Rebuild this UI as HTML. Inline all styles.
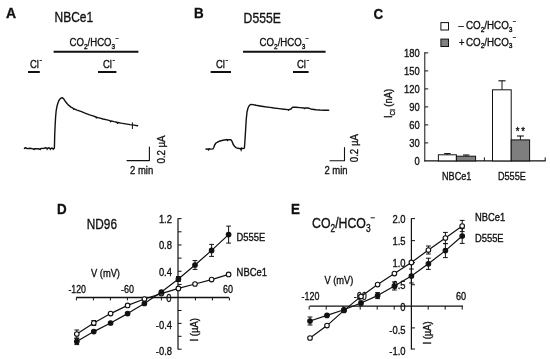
<!DOCTYPE html>
<html><head><meta charset="utf-8"><title>Figure</title>
<style>
html,body{margin:0;padding:0;background:#fff;}
svg{display:block;}
text{font-family:"Liberation Sans",Arial,Helvetica,sans-serif;fill:#111;stroke:#111;stroke-width:0.35px;}
</style></head>
<body>
<svg width="550" height="359" viewBox="0 0 550 359">
<rect x="0" y="0" width="550" height="359" fill="#fff"/>
<text transform="translate(6.00,18.40) scale(0.9200,1)" font-size="15.2" font-weight="bold">A</text>
<text transform="translate(194.00,18.20) scale(0.8800,1)" font-size="15.2" font-weight="bold">B</text>
<text transform="translate(373.60,18.60) scale(0.8800,1)" font-size="15.2" font-weight="bold">C</text>
<text transform="translate(57.00,214.10) scale(0.8800,1)" font-size="15.2" font-weight="bold">D</text>
<text transform="translate(291.00,214.10) scale(0.8800,1)" font-size="15.2" font-weight="bold">E</text>
<text transform="translate(54.50,22.10) scale(0.7850,1)" font-size="15.3">NBCe1</text>
<text transform="translate(69.60,46.00) scale(0.8337,1)" font-size="11.5"><tspan dy="0.00" font-size="11.50">CO</tspan><tspan dy="2.53" font-size="7.82">2</tspan><tspan dy="-2.53" font-size="11.50">/HCO</tspan><tspan dy="2.53" font-size="7.82">3</tspan><tspan dy="-7.71" font-size="7.04">−</tspan></text>
<line x1="53.60" y1="51.80" x2="138.40" y2="51.80" stroke="#111" stroke-width="2"/>
<text transform="translate(30.00,68.40) scale(0.8200,1)" font-size="11.5">Cl</text>
<text transform="translate(39.60,63.00) scale(0.8200,1)" font-size="9.775">-</text>
<line x1="28.00" y1="72.00" x2="39.80" y2="72.00" stroke="#111" stroke-width="2"/>
<text transform="translate(103.00,68.40) scale(0.8200,1)" font-size="11.5">Cl</text>
<text transform="translate(112.60,63.00) scale(0.8200,1)" font-size="9.775">-</text>
<line x1="98.00" y1="72.00" x2="116.40" y2="72.00" stroke="#111" stroke-width="2"/>
<polyline points="24.4,148.4 25.5,147.6 27.0,148.6 30.0,148.3 33.0,148.9 34.0,149.4 35.0,148.6 38.0,148.8 40.0,149.3 41.0,148.5 44.0,148.2 46.0,147.8 47.0,148.6 49.0,147.7 50.0,148.9 52.0,148.0 53.4,148.9 54.4,148.2 54.7,135.2 55.1,126.0 55.6,117.0 56.2,110.5 57.0,106.3 57.9,103.0 58.9,100.5 60.3,98.6 62.0,97.6 63.5,98.6 65.2,101.2 67.0,103.5 68.8,105.4 71.0,107.1 73.3,108.4 73.8,109.3 74.3,108.9 77.0,110.1 81.5,111.7 85.0,113.1 89.6,114.8 93.0,115.9 96.0,117.0 96.4,117.9 96.9,117.3 100.0,118.2 103.0,119.0 107.0,119.9 110.0,120.6 110.6,121.8 111.2,120.9 114.0,121.6 117.0,122.2 117.4,123.3 117.9,122.5 121.0,123.1 124.0,123.6 127.0,124.1 130.0,124.6 134.0,125.1 137.6,125.7" fill="none" stroke="#111" stroke-width="1.4" stroke-linejoin="round" stroke-linecap="round"/>
<line x1="132.40" y1="122.40" x2="132.40" y2="129.00" stroke="#111" stroke-width="1"/>
<line x1="34.20" y1="148.30" x2="34.20" y2="150.20" stroke="#111" stroke-width="0.9"/>
<line x1="40.30" y1="148.30" x2="40.30" y2="150.20" stroke="#111" stroke-width="0.9"/>
<line x1="47.20" y1="148.30" x2="47.20" y2="150.20" stroke="#111" stroke-width="0.9"/>
<line x1="50.60" y1="148.30" x2="50.60" y2="150.20" stroke="#111" stroke-width="0.9"/>
<line x1="53.20" y1="148.30" x2="53.20" y2="150.20" stroke="#111" stroke-width="0.9"/>
<line x1="241.20" y1="147.20" x2="241.20" y2="151.40" stroke="#111" stroke-width="0.9"/>
<line x1="208.60" y1="148.60" x2="208.60" y2="150.60" stroke="#111" stroke-width="0.9"/>
<polyline points="127.0,160.6 149.4,160.6 149.4,147.0" fill="none" stroke="#111" stroke-width="1.1" stroke-linejoin="round" stroke-linecap="round"/>
<text transform="translate(130.00,174.40) scale(0.8256,1)" font-size="11.5">2 min</text>
<text transform="translate(164.60,163.60) rotate(-90) scale(0.8418,1)" font-size="11.5">0.2 µA</text>
<text transform="translate(243.60,22.60) scale(0.8113,1)" font-size="15.0">D555E</text>
<text transform="translate(259.60,46.00) scale(0.8371,1)" font-size="11.5"><tspan dy="0.00" font-size="11.50">CO</tspan><tspan dy="2.53" font-size="7.82">2</tspan><tspan dy="-2.53" font-size="11.50">/HCO</tspan><tspan dy="2.53" font-size="7.82">3</tspan><tspan dy="-7.71" font-size="7.04">−</tspan></text>
<line x1="243.00" y1="51.80" x2="325.60" y2="51.80" stroke="#111" stroke-width="2"/>
<text transform="translate(216.00,68.40) scale(0.8200,1)" font-size="11.5">Cl</text>
<text transform="translate(225.60,63.00) scale(0.8200,1)" font-size="9.775">-</text>
<line x1="210.60" y1="72.00" x2="231.00" y2="72.00" stroke="#111" stroke-width="2"/>
<text transform="translate(297.00,68.40) scale(0.8200,1)" font-size="11.5">Cl</text>
<text transform="translate(306.60,63.00) scale(0.8200,1)" font-size="9.775">-</text>
<line x1="293.00" y1="72.00" x2="308.60" y2="72.00" stroke="#111" stroke-width="2"/>
<polyline points="206.0,149.0 208.0,149.2 208.5,149.8 209.0,148.8 211.0,149.1 213.0,148.9 213.8,147.5 214.6,145.0 216.0,143.0 218.0,141.8 220.0,141.0 223.0,140.3 226.0,139.8 227.0,139.4 227.4,140.6 228.0,139.7 231.0,139.8 232.0,141.3 233.0,144.0 234.5,146.3 236.0,147.6 238.0,148.3 240.0,148.6 241.0,149.4 241.5,148.2 243.0,148.6 244.4,148.2 245.0,140.0 245.6,130.0 246.2,120.0 247.0,112.0 248.0,108.0 249.0,106.0 250.0,104.9 251.0,104.4 253.0,104.6 256.0,105.3 260.0,106.0 265.0,106.8 270.0,107.4 274.0,108.0 279.0,108.6 284.0,109.2 288.0,109.6 288.5,110.3 289.0,109.6 291.0,109.0 292.0,107.8 293.0,107.1 296.0,107.3 300.0,107.6 304.0,108.0 304.5,108.6 305.0,108.0 308.0,108.0 310.0,108.6 312.0,109.3 316.0,109.7 320.0,110.0 324.0,110.2 328.7,110.3" fill="none" stroke="#111" stroke-width="1.4" stroke-linejoin="round" stroke-linecap="round"/>
<polyline points="330.0,160.7 344.5,160.7 344.5,147.6" fill="none" stroke="#111" stroke-width="1.1" stroke-linejoin="round" stroke-linecap="round"/>
<text transform="translate(324.40,174.40) scale(0.8256,1)" font-size="11.5">2 min</text>
<text transform="translate(358.40,162.20) rotate(-90) scale(0.8418,1)" font-size="11.5">0.2 µA</text>
<rect x="440.90" y="22.60" width="7.60" height="7.40" fill="#fff" stroke="#111" stroke-width="1"/>
<rect x="440.90" y="39.10" width="7.60" height="7.40" fill="#808080" stroke="#111" stroke-width="1"/>
<text transform="translate(458.40,29.00) scale(0.8200,1)" font-size="11.5">–</text>
<text transform="translate(466.00,29.00) scale(0.8507,1)" font-size="11.5"><tspan dy="0.00" font-size="11.50">CO</tspan><tspan dy="2.53" font-size="7.82">2</tspan><tspan dy="-2.53" font-size="11.50">/HCO</tspan><tspan dy="2.53" font-size="7.82">3</tspan><tspan dy="-7.71" font-size="7.04">−</tspan></text>
<text transform="translate(459.00,45.50) scale(0.8200,1)" font-size="11.5">+</text>
<text transform="translate(466.00,45.50) scale(0.8507,1)" font-size="11.5"><tspan dy="0.00" font-size="11.50">CO</tspan><tspan dy="2.53" font-size="7.82">2</tspan><tspan dy="-2.53" font-size="11.50">/HCO</tspan><tspan dy="2.53" font-size="7.82">3</tspan><tspan dy="-7.71" font-size="7.04">−</tspan></text>
<line x1="424.80" y1="52.20" x2="424.80" y2="161.40" stroke="#111" stroke-width="1.0"/>
<line x1="424.30" y1="160.90" x2="545.60" y2="160.90" stroke="#111" stroke-width="1.3"/>
<text transform="translate(414.45,165.10) scale(0.8200,1)" font-size="11.5">0</text>
<line x1="424.80" y1="142.90" x2="428.20" y2="142.90" stroke="#111" stroke-width="1"/>
<text transform="translate(409.20,147.10) scale(0.8200,1)" font-size="11.5">30</text>
<line x1="424.80" y1="124.90" x2="428.20" y2="124.90" stroke="#111" stroke-width="1"/>
<text transform="translate(409.20,129.10) scale(0.8200,1)" font-size="11.5">60</text>
<line x1="424.80" y1="106.90" x2="428.20" y2="106.90" stroke="#111" stroke-width="1"/>
<text transform="translate(409.20,111.10) scale(0.8200,1)" font-size="11.5">90</text>
<line x1="424.80" y1="88.90" x2="428.20" y2="88.90" stroke="#111" stroke-width="1"/>
<text transform="translate(403.96,93.10) scale(0.8200,1)" font-size="11.5">120</text>
<line x1="424.80" y1="70.90" x2="428.20" y2="70.90" stroke="#111" stroke-width="1"/>
<text transform="translate(403.96,75.10) scale(0.8200,1)" font-size="11.5">150</text>
<line x1="424.80" y1="52.90" x2="428.20" y2="52.90" stroke="#111" stroke-width="1"/>
<text transform="translate(403.96,57.10) scale(0.8200,1)" font-size="11.5">180</text>
<line x1="484.40" y1="157.40" x2="484.40" y2="160.90" stroke="#111" stroke-width="1"/>
<line x1="545.20" y1="157.40" x2="545.20" y2="160.90" stroke="#111" stroke-width="1"/>
<line x1="447.40" y1="153.60" x2="447.40" y2="154.80" stroke="#111" stroke-width="1"/>
<line x1="444.15" y1="153.60" x2="450.65" y2="153.60" stroke="#111" stroke-width="1.1"/>
<rect x="438.40" y="154.80" width="18.00" height="6.10" fill="#fff" stroke="#111" stroke-width="1"/>
<line x1="466.20" y1="155.00" x2="466.20" y2="156.20" stroke="#111" stroke-width="1"/>
<line x1="462.95" y1="155.00" x2="469.45" y2="155.00" stroke="#111" stroke-width="1.1"/>
<rect x="456.40" y="156.20" width="19.20" height="4.70" fill="#808080" stroke="#111" stroke-width="1"/>
<line x1="502.00" y1="80.80" x2="502.00" y2="89.80" stroke="#111" stroke-width="1"/>
<line x1="498.40" y1="80.80" x2="505.60" y2="80.80" stroke="#111" stroke-width="1.1"/>
<rect x="492.50" y="89.80" width="18.70" height="71.10" fill="#fff" stroke="#111" stroke-width="1"/>
<line x1="520.40" y1="136.00" x2="520.40" y2="139.90" stroke="#111" stroke-width="1"/>
<line x1="517.00" y1="136.00" x2="523.80" y2="136.00" stroke="#111" stroke-width="1.1"/>
<rect x="511.20" y="139.90" width="18.40" height="21.00" fill="#7e7e7e" stroke="#111" stroke-width="1"/>
<text transform="translate(515.70,135.40) scale(0.8222,1)" font-size="11.5">*</text>
<text transform="translate(521.30,135.40) scale(0.8222,1)" font-size="11.5">*</text>
<text transform="translate(442.00,179.80) scale(0.7935,1)" font-size="11.5">NBCe1</text>
<text transform="translate(498.00,180.00) scale(0.7909,1)" font-size="11.5">D555E</text>
<text transform="translate(392.3,118) rotate(-90) scale(0.82,1)" font-size="11.5">I<tspan dy="2.6" font-size="7.8">Cl</tspan><tspan dy="-2.6"> (nA)</tspan></text>
<text transform="translate(86.80,228.60) scale(0.7875,1)" font-size="15.0">ND96</text>
<line x1="76.20" y1="297.40" x2="229.00" y2="297.40" stroke="#111" stroke-width="1.5"/>
<line x1="178.00" y1="218.20" x2="178.00" y2="349.40" stroke="#111" stroke-width="1.2"/>
<line x1="76.40" y1="297.60" x2="76.40" y2="300.40" stroke="#111" stroke-width="1"/>
<line x1="93.40" y1="297.60" x2="93.40" y2="300.40" stroke="#111" stroke-width="1"/>
<line x1="110.40" y1="297.60" x2="110.40" y2="300.40" stroke="#111" stroke-width="1"/>
<line x1="127.40" y1="297.60" x2="127.40" y2="300.40" stroke="#111" stroke-width="1"/>
<line x1="144.40" y1="297.60" x2="144.40" y2="300.40" stroke="#111" stroke-width="1"/>
<line x1="161.40" y1="297.60" x2="161.40" y2="300.40" stroke="#111" stroke-width="1"/>
<line x1="195.40" y1="297.60" x2="195.40" y2="300.40" stroke="#111" stroke-width="1"/>
<line x1="212.40" y1="297.60" x2="212.40" y2="300.40" stroke="#111" stroke-width="1"/>
<line x1="229.40" y1="297.60" x2="229.40" y2="300.40" stroke="#111" stroke-width="1"/>
<line x1="178.00" y1="349.20" x2="181.60" y2="349.20" stroke="#111" stroke-width="1"/>
<line x1="178.00" y1="336.30" x2="181.60" y2="336.30" stroke="#111" stroke-width="1"/>
<line x1="178.00" y1="323.40" x2="181.60" y2="323.40" stroke="#111" stroke-width="1"/>
<line x1="178.00" y1="310.50" x2="181.60" y2="310.50" stroke="#111" stroke-width="1"/>
<line x1="178.00" y1="284.44" x2="181.60" y2="284.44" stroke="#111" stroke-width="1"/>
<line x1="178.00" y1="271.28" x2="181.60" y2="271.28" stroke="#111" stroke-width="1"/>
<line x1="178.00" y1="258.12" x2="181.60" y2="258.12" stroke="#111" stroke-width="1"/>
<line x1="178.00" y1="244.96" x2="181.60" y2="244.96" stroke="#111" stroke-width="1"/>
<line x1="178.00" y1="231.80" x2="181.60" y2="231.80" stroke="#111" stroke-width="1"/>
<line x1="178.00" y1="218.64" x2="181.60" y2="218.64" stroke="#111" stroke-width="1"/>
<text transform="translate(158.88,223.04) scale(0.8200,1)" font-size="11.5">1.2</text>
<text transform="translate(158.88,249.36) scale(0.8200,1)" font-size="11.5">0.8</text>
<text transform="translate(158.88,275.68) scale(0.8200,1)" font-size="11.5">0.4</text>
<text transform="translate(155.76,329.00) scale(0.8200,1)" font-size="11.5">-0.4</text>
<text transform="translate(155.76,355.00) scale(0.8200,1)" font-size="11.5">-0.8</text>
<text transform="translate(166.35,302.20) scale(0.8200,1)" font-size="11.5">0</text>
<text transform="translate(91.00,276.60) scale(0.8101,1)" font-size="11.5">V (mV)</text>
<text transform="translate(68.40,292.60) scale(0.7652,1)" font-size="11.5">-120</text>
<text transform="translate(121.00,292.60) scale(0.7831,1)" font-size="11.5">-60</text>
<text transform="translate(223.00,292.60) scale(0.7812,1)" font-size="11.5">60</text>
<text transform="translate(236.60,240.80) scale(0.8137,1)" font-size="11.5">D555E</text>
<text transform="translate(236.60,275.80) scale(0.8205,1)" font-size="11.5">NBCe1</text>
<text transform="translate(197.60,341.40) rotate(-90) scale(0.8254,1)" font-size="11.5">I (µA)</text>
<polyline points="76.8,334.0 93.8,323.0 110.6,313.6 127.6,305.4 144.4,299.0 161.4,293.6 178.4,288.4 195.0,284.0 211.6,279.6 228.6,274.4" fill="none" stroke="#111" stroke-width="1.2" stroke-linejoin="round" stroke-linecap="round"/>
<line x1="76.80" y1="330.00" x2="76.80" y2="338.00" stroke="#111" stroke-width="1"/>
<line x1="74.40" y1="330.00" x2="79.20" y2="330.00" stroke="#111" stroke-width="1"/>
<line x1="74.40" y1="338.00" x2="79.20" y2="338.00" stroke="#111" stroke-width="1"/>
<line x1="93.80" y1="320.50" x2="93.80" y2="325.50" stroke="#111" stroke-width="1"/>
<line x1="91.40" y1="320.50" x2="96.20" y2="320.50" stroke="#111" stroke-width="1"/>
<line x1="91.40" y1="325.50" x2="96.20" y2="325.50" stroke="#111" stroke-width="1"/>
<circle cx="76.8" cy="334.0" r="2.3" fill="#fff" stroke="#111" stroke-width="1.1"/>
<circle cx="93.8" cy="323.0" r="2.3" fill="#fff" stroke="#111" stroke-width="1.1"/>
<circle cx="110.6" cy="313.6" r="2.3" fill="#fff" stroke="#111" stroke-width="1.1"/>
<circle cx="127.6" cy="305.4" r="2.3" fill="#fff" stroke="#111" stroke-width="1.1"/>
<circle cx="144.4" cy="299.0" r="2.3" fill="#fff" stroke="#111" stroke-width="1.1"/>
<circle cx="161.4" cy="293.6" r="2.3" fill="#fff" stroke="#111" stroke-width="1.1"/>
<circle cx="178.4" cy="288.4" r="2.3" fill="#fff" stroke="#111" stroke-width="1.1"/>
<circle cx="195.0" cy="284.0" r="2.3" fill="#fff" stroke="#111" stroke-width="1.1"/>
<circle cx="211.6" cy="279.6" r="2.3" fill="#fff" stroke="#111" stroke-width="1.1"/>
<circle cx="228.6" cy="274.4" r="2.3" fill="#fff" stroke="#111" stroke-width="1.1"/>
<polyline points="76.8,341.6 93.8,331.6 110.6,323.0 127.6,313.6 144.4,303.5 161.4,292.0 178.4,279.0 195.0,265.0 211.6,250.4 228.6,234.6" fill="none" stroke="#111" stroke-width="1.2" stroke-linejoin="round" stroke-linecap="round"/>
<line x1="76.80" y1="338.60" x2="76.80" y2="344.60" stroke="#111" stroke-width="1"/>
<line x1="74.40" y1="338.60" x2="79.20" y2="338.60" stroke="#111" stroke-width="1"/>
<line x1="74.40" y1="344.60" x2="79.20" y2="344.60" stroke="#111" stroke-width="1"/>
<line x1="178.40" y1="276.50" x2="178.40" y2="281.50" stroke="#111" stroke-width="1"/>
<line x1="176.00" y1="276.50" x2="180.80" y2="276.50" stroke="#111" stroke-width="1"/>
<line x1="176.00" y1="281.50" x2="180.80" y2="281.50" stroke="#111" stroke-width="1"/>
<line x1="195.00" y1="260.60" x2="195.00" y2="269.40" stroke="#111" stroke-width="1"/>
<line x1="192.60" y1="260.60" x2="197.40" y2="260.60" stroke="#111" stroke-width="1"/>
<line x1="192.60" y1="269.40" x2="197.40" y2="269.40" stroke="#111" stroke-width="1"/>
<line x1="211.60" y1="244.40" x2="211.60" y2="256.40" stroke="#111" stroke-width="1"/>
<line x1="209.20" y1="244.40" x2="214.00" y2="244.40" stroke="#111" stroke-width="1"/>
<line x1="209.20" y1="256.40" x2="214.00" y2="256.40" stroke="#111" stroke-width="1"/>
<line x1="228.60" y1="226.10" x2="228.60" y2="243.10" stroke="#111" stroke-width="1"/>
<line x1="226.20" y1="226.10" x2="231.00" y2="226.10" stroke="#111" stroke-width="1"/>
<line x1="226.20" y1="243.10" x2="231.00" y2="243.10" stroke="#111" stroke-width="1"/>
<circle cx="76.8" cy="341.6" r="2.3" fill="#111" stroke="#111" stroke-width="1.1"/>
<circle cx="93.8" cy="331.6" r="2.3" fill="#111" stroke="#111" stroke-width="1.1"/>
<circle cx="110.6" cy="323.0" r="2.3" fill="#111" stroke="#111" stroke-width="1.1"/>
<circle cx="127.6" cy="313.6" r="2.3" fill="#111" stroke="#111" stroke-width="1.1"/>
<circle cx="144.4" cy="303.5" r="2.3" fill="#111" stroke="#111" stroke-width="1.1"/>
<circle cx="161.4" cy="292.0" r="2.3" fill="#111" stroke="#111" stroke-width="1.1"/>
<circle cx="178.4" cy="279.0" r="2.3" fill="#111" stroke="#111" stroke-width="1.1"/>
<circle cx="195.0" cy="265.0" r="2.3" fill="#111" stroke="#111" stroke-width="1.1"/>
<circle cx="211.6" cy="250.4" r="2.3" fill="#111" stroke="#111" stroke-width="1.1"/>
<circle cx="228.6" cy="234.6" r="2.3" fill="#111" stroke="#111" stroke-width="1.1"/>
<text transform="translate(312.00,228.20) scale(0.8214,1)" font-size="15.0"><tspan dy="0.00" font-size="15.00">CO</tspan><tspan dy="3.30" font-size="10.20">2</tspan><tspan dy="-3.30" font-size="15.00">/HCO</tspan><tspan dy="3.30" font-size="10.20">3</tspan><tspan dy="-10.05" font-size="9.18">−</tspan></text>
<line x1="309.60" y1="306.10" x2="463.00" y2="306.10" stroke="#111" stroke-width="1.3"/>
<line x1="411.40" y1="218.20" x2="411.40" y2="349.40" stroke="#111" stroke-width="1.2"/>
<line x1="309.20" y1="306.10" x2="309.20" y2="309.60" stroke="#111" stroke-width="1"/>
<line x1="326.20" y1="306.10" x2="326.20" y2="309.60" stroke="#111" stroke-width="1"/>
<line x1="343.20" y1="306.10" x2="343.20" y2="309.60" stroke="#111" stroke-width="1"/>
<line x1="360.20" y1="306.10" x2="360.20" y2="309.60" stroke="#111" stroke-width="1"/>
<line x1="377.20" y1="306.10" x2="377.20" y2="309.60" stroke="#111" stroke-width="1"/>
<line x1="394.20" y1="306.10" x2="394.20" y2="309.60" stroke="#111" stroke-width="1"/>
<line x1="428.20" y1="306.10" x2="428.20" y2="309.60" stroke="#111" stroke-width="1"/>
<line x1="445.20" y1="306.10" x2="445.20" y2="309.60" stroke="#111" stroke-width="1"/>
<line x1="462.20" y1="306.10" x2="462.20" y2="309.60" stroke="#111" stroke-width="1"/>
<line x1="411.40" y1="349.00" x2="415.00" y2="349.00" stroke="#111" stroke-width="1"/>
<line x1="411.40" y1="327.90" x2="415.00" y2="327.90" stroke="#111" stroke-width="1"/>
<line x1="411.40" y1="284.75" x2="415.00" y2="284.75" stroke="#111" stroke-width="1"/>
<line x1="411.40" y1="262.70" x2="415.00" y2="262.70" stroke="#111" stroke-width="1"/>
<line x1="411.40" y1="240.65" x2="415.00" y2="240.65" stroke="#111" stroke-width="1"/>
<line x1="411.40" y1="218.60" x2="415.00" y2="218.60" stroke="#111" stroke-width="1"/>
<text transform="translate(392.48,222.90) scale(0.8200,1)" font-size="11.5">2.0</text>
<text transform="translate(392.48,244.95) scale(0.8200,1)" font-size="11.5">1.5</text>
<text transform="translate(392.48,267.00) scale(0.8200,1)" font-size="11.5">1.0</text>
<text transform="translate(392.48,289.05) scale(0.8200,1)" font-size="11.5">0.5</text>
<text transform="translate(400.15,311.00) scale(0.8200,1)" font-size="11.5">0</text>
<text transform="translate(389.36,334.00) scale(0.8200,1)" font-size="11.5">-0.5</text>
<text transform="translate(389.36,355.40) scale(0.8200,1)" font-size="11.5">-1.0</text>
<text transform="translate(324.40,284.00) scale(0.8101,1)" font-size="11.5">V (mV)</text>
<text transform="translate(301.60,300.00) scale(0.7739,1)" font-size="11.5">-120</text>
<text transform="translate(353.80,300.00) scale(0.7831,1)" font-size="11.5">-60</text>
<text transform="translate(456.00,300.00) scale(0.7969,1)" font-size="11.5">60</text>
<text transform="translate(475.00,221.40) scale(0.8151,1)" font-size="11.5">NBCe1</text>
<text transform="translate(475.00,241.90) scale(0.8137,1)" font-size="11.5">D555E</text>
<text transform="translate(431.00,344.60) rotate(-90) scale(0.8254,1)" font-size="11.5">I (µA)</text>
<polyline points="310.0,338.0 327.0,325.6 344.0,310.4 361.0,296.4 377.6,284.6 394.4,273.6 411.4,262.4 428.4,250.0 445.4,238.0 462.2,226.0" fill="none" stroke="#111" stroke-width="1.2" stroke-linejoin="round" stroke-linecap="round"/>
<line x1="428.40" y1="246.00" x2="428.40" y2="254.00" stroke="#111" stroke-width="1"/>
<line x1="426.00" y1="246.00" x2="430.80" y2="246.00" stroke="#111" stroke-width="1"/>
<line x1="426.00" y1="254.00" x2="430.80" y2="254.00" stroke="#111" stroke-width="1"/>
<line x1="445.40" y1="232.40" x2="445.40" y2="243.60" stroke="#111" stroke-width="1"/>
<line x1="443.00" y1="232.40" x2="447.80" y2="232.40" stroke="#111" stroke-width="1"/>
<line x1="443.00" y1="243.60" x2="447.80" y2="243.60" stroke="#111" stroke-width="1"/>
<line x1="462.20" y1="220.40" x2="462.20" y2="231.60" stroke="#111" stroke-width="1"/>
<line x1="459.80" y1="220.40" x2="464.60" y2="220.40" stroke="#111" stroke-width="1"/>
<line x1="459.80" y1="231.60" x2="464.60" y2="231.60" stroke="#111" stroke-width="1"/>
<circle cx="310.0" cy="338.0" r="2.3" fill="#fff" stroke="#111" stroke-width="1.1"/>
<circle cx="327.0" cy="325.6" r="2.3" fill="#fff" stroke="#111" stroke-width="1.1"/>
<circle cx="344.0" cy="310.4" r="2.3" fill="#fff" stroke="#111" stroke-width="1.1"/>
<circle cx="361.0" cy="296.4" r="2.3" fill="#fff" stroke="#111" stroke-width="1.1"/>
<circle cx="377.6" cy="284.6" r="2.3" fill="#fff" stroke="#111" stroke-width="1.1"/>
<circle cx="394.4" cy="273.6" r="2.3" fill="#fff" stroke="#111" stroke-width="1.1"/>
<circle cx="411.4" cy="262.4" r="2.3" fill="#fff" stroke="#111" stroke-width="1.1"/>
<circle cx="428.4" cy="250.0" r="2.3" fill="#fff" stroke="#111" stroke-width="1.1"/>
<circle cx="445.4" cy="238.0" r="2.3" fill="#fff" stroke="#111" stroke-width="1.1"/>
<circle cx="462.2" cy="226.0" r="2.3" fill="#fff" stroke="#111" stroke-width="1.1"/>
<polyline points="310.0,321.0 327.0,315.4 344.0,309.8 361.0,303.0 377.6,295.6 394.4,286.0 411.4,276.0 428.4,263.8 445.4,250.6 462.2,236.0" fill="none" stroke="#111" stroke-width="1.2" stroke-linejoin="round" stroke-linecap="round"/>
<line x1="310.00" y1="317.00" x2="310.00" y2="325.00" stroke="#111" stroke-width="1"/>
<line x1="307.60" y1="317.00" x2="312.40" y2="317.00" stroke="#111" stroke-width="1"/>
<line x1="307.60" y1="325.00" x2="312.40" y2="325.00" stroke="#111" stroke-width="1"/>
<line x1="361.00" y1="301.00" x2="361.00" y2="305.00" stroke="#111" stroke-width="1"/>
<line x1="358.60" y1="301.00" x2="363.40" y2="301.00" stroke="#111" stroke-width="1"/>
<line x1="358.60" y1="305.00" x2="363.40" y2="305.00" stroke="#111" stroke-width="1"/>
<line x1="377.60" y1="292.60" x2="377.60" y2="298.60" stroke="#111" stroke-width="1"/>
<line x1="375.20" y1="292.60" x2="380.00" y2="292.60" stroke="#111" stroke-width="1"/>
<line x1="375.20" y1="298.60" x2="380.00" y2="298.60" stroke="#111" stroke-width="1"/>
<line x1="394.40" y1="282.00" x2="394.40" y2="290.00" stroke="#111" stroke-width="1"/>
<line x1="392.00" y1="282.00" x2="396.80" y2="282.00" stroke="#111" stroke-width="1"/>
<line x1="392.00" y1="290.00" x2="396.80" y2="290.00" stroke="#111" stroke-width="1"/>
<line x1="411.40" y1="269.00" x2="411.40" y2="283.00" stroke="#111" stroke-width="1"/>
<line x1="409.00" y1="269.00" x2="413.80" y2="269.00" stroke="#111" stroke-width="1"/>
<line x1="409.00" y1="283.00" x2="413.80" y2="283.00" stroke="#111" stroke-width="1"/>
<line x1="428.40" y1="258.20" x2="428.40" y2="269.40" stroke="#111" stroke-width="1"/>
<line x1="426.00" y1="258.20" x2="430.80" y2="258.20" stroke="#111" stroke-width="1"/>
<line x1="426.00" y1="269.40" x2="430.80" y2="269.40" stroke="#111" stroke-width="1"/>
<line x1="445.40" y1="243.60" x2="445.40" y2="257.60" stroke="#111" stroke-width="1"/>
<line x1="443.00" y1="243.60" x2="447.80" y2="243.60" stroke="#111" stroke-width="1"/>
<line x1="443.00" y1="257.60" x2="447.80" y2="257.60" stroke="#111" stroke-width="1"/>
<line x1="462.20" y1="228.60" x2="462.20" y2="243.40" stroke="#111" stroke-width="1"/>
<line x1="459.80" y1="228.60" x2="464.60" y2="228.60" stroke="#111" stroke-width="1"/>
<line x1="459.80" y1="243.40" x2="464.60" y2="243.40" stroke="#111" stroke-width="1"/>
<circle cx="310.0" cy="321.0" r="2.3" fill="#111" stroke="#111" stroke-width="1.1"/>
<circle cx="327.0" cy="315.4" r="2.3" fill="#111" stroke="#111" stroke-width="1.1"/>
<circle cx="344.0" cy="309.8" r="2.3" fill="#111" stroke="#111" stroke-width="1.1"/>
<circle cx="361.0" cy="303.0" r="2.3" fill="#111" stroke="#111" stroke-width="1.1"/>
<circle cx="377.6" cy="295.6" r="2.3" fill="#111" stroke="#111" stroke-width="1.1"/>
<circle cx="394.4" cy="286.0" r="2.3" fill="#111" stroke="#111" stroke-width="1.1"/>
<circle cx="411.4" cy="276.0" r="2.3" fill="#111" stroke="#111" stroke-width="1.1"/>
<circle cx="428.4" cy="263.8" r="2.3" fill="#111" stroke="#111" stroke-width="1.1"/>
<circle cx="445.4" cy="250.6" r="2.3" fill="#111" stroke="#111" stroke-width="1.1"/>
<circle cx="462.2" cy="236.0" r="2.3" fill="#111" stroke="#111" stroke-width="1.1"/>
</svg>
</body></html>
